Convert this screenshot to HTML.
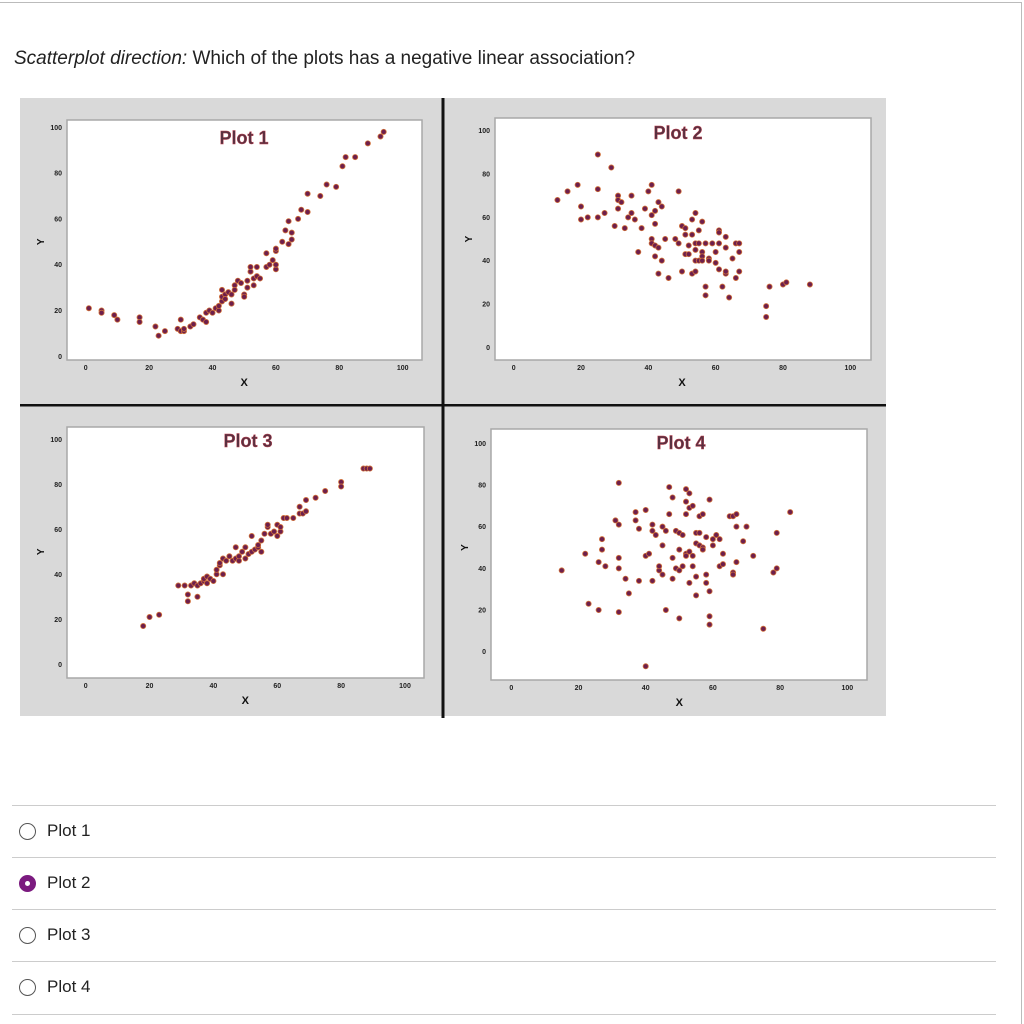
<!DOCTYPE html>
<html><head><meta charset="utf-8"><style>
body{margin:0;width:1024px;height:1024px;background:#fff;font-family:"Liberation Sans",sans-serif;position:relative;overflow:hidden}
.q{position:absolute;left:14px;top:48px;font-size:19px;color:#222}
.opt{position:absolute;left:12px;width:984px;height:52px;border-top:1px solid #ccc}
.opt .r{position:absolute;left:7px;top:17px;width:17px;height:17px;border:1px solid #555;border-radius:50%;box-sizing:border-box}
.opt .r.sel{background:#7b1a7f;border-color:#7b1a7f}
.opt .r.sel:after{content:"";position:absolute;left:5px;top:5px;width:5px;height:5px;border-radius:50%;background:#fff}
.opt span{position:absolute;left:35px;top:15px;font-size:17px;color:#222}
</style></head><body>
<div style="position:absolute;left:0;top:2px;width:1021px;height:1px;background:#bbb"></div>
<div style="position:absolute;left:1021px;top:2px;width:1px;height:1022px;background:#bbb"></div>
<div class="q"><i>Scatterplot direction:</i> Which of the plots has a negative linear association?</div>
<svg id="chart" width="1024" height="1024" style="position:absolute;left:0;top:0" xmlns="http://www.w3.org/2000/svg"></svg>
<div class="opt" style="top:805px"><div class="r"></div><span>Plot 1</span></div>
<div class="opt" style="top:857px"><div class="r sel"></div><span>Plot 2</span></div>
<div class="opt" style="top:909px"><div class="r"></div><span>Plot 3</span></div>
<div class="opt" style="top:961px;border-bottom:1px solid #ccc"><div class="r"></div><span>Plot 4</span></div>
<script>
const xTicks=[0,20,40,60,80,100];
const yTicks=[0,20,40,60,80,100];
const plot1=[[1,21],[5,20],[5,19],[9,18],[10,16],[17,17],[17,15],[22,13],[23,9],[25,11],[29,12],[30,11],[30,16],[31,11],[31,12],[33,13],[34,14],[36,17],[37,16],[38,15],[38,19],[39,20],[40,19],[41,21],[42,20],[42,22],[43,24],[43,26],[43,29],[44,27],[44,25],[45,28],[46,27],[46,23],[47,31],[47,29],[48,33],[49,32],[50,27],[50,26],[51,30],[51,33],[52,37],[52,39],[53,34],[53,31],[54,39],[54,35],[55,34],[57,39],[57,45],[58,40],[59,42],[60,38],[60,40],[60,46],[60,47],[62,50],[63,55],[64,49],[64,59],[65,54],[65,51],[67,60],[68,64],[70,63],[70,71],[74,70],[76,75],[79,74],[81,83],[82,87],[85,87],[89,93],[93,96],[94,98]];
const plot2=[[13,68],[16,72],[19,75],[20,59],[20,65],[22,60],[25,89],[25,73],[25,60],[27,62],[29,83],[30,56],[31,70],[31,68],[31,64],[32,67],[33,55],[34,60],[35,70],[35,62],[36,59],[37,44],[38,55],[39,64],[40,72],[41,61],[41,75],[41,50],[41,48],[42,47],[42,63],[42,57],[42,42],[43,67],[43,46],[43,34],[44,65],[44,40],[45,50],[46,32],[48,50],[49,72],[49,48],[50,56],[50,35],[51,55],[51,52],[51,43],[52,47],[52,43],[53,59],[53,52],[53,34],[54,62],[54,48],[54,45],[54,40],[54,35],[55,48],[55,40],[55,54],[56,58],[56,44],[56,42],[56,40],[57,48],[57,28],[57,24],[58,41],[58,40],[59,48],[60,44],[60,39],[61,54],[61,53],[61,36],[61,48],[62,28],[63,51],[63,46],[63,34],[63,35],[64,23],[65,41],[66,48],[66,32],[67,48],[67,44],[67,35],[75,19],[75,14],[76,28],[80,29],[81,30],[88,29]];
const plot3=[[18,17],[20,21],[23,22],[29,35],[31,35],[32,28],[32,31],[33,35],[34,36],[35,30],[35,35],[36,36],[37,37],[37,38],[38,39],[38,36],[39,38],[40,37],[41,40],[41,42],[42,44],[42,45],[43,40],[43,47],[44,46],[45,48],[46,46],[47,47],[47,52],[48,46],[48,48],[49,50],[50,47],[50,52],[51,49],[52,50],[52,57],[53,51],[54,52],[54,53],[55,50],[55,55],[56,58],[57,61],[57,62],[58,58],[59,59],[60,57],[60,62],[61,59],[61,61],[62,65],[63,65],[65,65],[67,67],[67,70],[68,67],[69,68],[69,73],[72,74],[75,77],[80,81],[80,79],[87,87],[88,87],[89,87]];
const plot4=[[15,39],[22,47],[23,23],[26,43],[26,20],[27,54],[27,49],[28,41],[31,63],[32,61],[32,81],[32,19],[32,45],[32,40],[34,35],[35,28],[37,63],[37,67],[38,59],[38,34],[40,68],[40,46],[40,-7],[41,47],[42,61],[42,58],[42,34],[43,56],[44,39],[44,41],[45,37],[45,51],[45,60],[46,20],[46,58],[47,66],[47,79],[48,35],[48,45],[48,74],[49,58],[49,40],[50,57],[50,16],[50,49],[50,39],[51,41],[51,56],[52,78],[52,72],[52,47],[52,46],[52,66],[53,76],[53,69],[53,48],[53,33],[54,41],[54,46],[54,70],[55,57],[55,36],[55,52],[55,27],[56,57],[56,51],[56,65],[57,66],[57,50],[57,49],[58,55],[58,37],[58,33],[59,73],[59,17],[59,13],[59,29],[60,51],[60,54],[61,56],[62,54],[62,41],[63,47],[63,42],[65,65],[66,65],[66,38],[66,37],[67,66],[67,60],[67,43],[69,53],[70,60],[72,46],[75,11],[78,38],[79,57],[79,40],[83,67]];
const NS="http://www.w3.org/2000/svg";
const svg=document.getElementById('chart');
function mk(tag,attrs,parent){const e=document.createElementNS(NS,tag);for(const k in attrs)e.setAttribute(k,attrs[k]);(parent||svg).appendChild(e);return e;}
let bg=mk('rect',{x:20,y:98,width:866,height:618,fill:'#d9d9d9'});


const panels=[
 {name:'plot-1',title:'Plot 1',data:plot1,box:[67,120,355,240],x0:85.7,x1:402.7,y0:356.3,y1:127.3,tx:244,ty:144},
 {name:'plot-2',title:'Plot 2',data:plot2,box:[495,118,376,242],x0:513.7,x1:850.3,y0:347.3,y1:130.7,tx:678,ty:139},
 {name:'plot-3',title:'Plot 3',data:plot3,box:[67,427,357,251],x0:85.7,x1:405,y0:664.3,y1:439.3,tx:248,ty:447},
 {name:'plot-4',title:'Plot 4',data:plot4,box:[491,429,376,251],x0:511.3,x1:847.3,y0:651.7,y1:443.3,tx:681,ty:449}
];
panels.forEach(p=>{
 const g=mk('g',{});
 
 
 const sx=v=>p.x0+(p.x1-p.x0)*v/100, sy=v=>p.y0+(p.y1-p.y0)*v/100;
 const [bx,by,bw,bh]=p.box;
 const r=mk('rect',{x:bx,y:by,width:bw,height:bh,fill:'#fff',stroke:'#a8a8a8','stroke-width':1.5},g);
 
 
 xTicks.forEach(t=>{
  const tl=mk('text',{x:sx(t),y:by+bh+10,'font-size':7,'font-weight':'bold','text-anchor':'middle',fill:'#222'},g);
  tl.textContent=t;
  
  
 });
 yTicks.forEach(t=>{
  const tl=mk('text',{x:bx-5,y:sy(t)+2.5,'font-size':7,'font-weight':'bold','text-anchor':'end',fill:'#222'},g);
  tl.textContent=t;
  
  
 });
 const xl=mk('text',{x:(p.x0+p.x1)/2,y:by+bh+26,'font-size':11,'font-weight':'bold','text-anchor':'middle',fill:'#111'},g);
 xl.textContent='X';
 
 
 const yc=(p.y0+p.y1)/2;
 const yl=mk('text',{x:bx-26,y:yc,'font-size':10,'font-weight':'bold','text-anchor':'middle',fill:'#111',transform:`rotate(-90 ${bx-26} ${yc})`,dy:3},g);
 yl.textContent='Y';
 
 
 const tt=mk('text',{x:p.tx,y:p.ty,'font-size':18,'font-weight':'bold','text-anchor':'middle',fill:'#5a3040',stroke:'#c04050','stroke-width':0.4},g);
 tt.textContent=p.title;
 
 
 p.data.forEach(d=>{
  const c=mk('circle',{cx:sx(d[0]),cy:sy(d[1]),r:2.6,fill:'#6e1f4c',stroke:'#d0703a','stroke-width':0.8},g);
  
  
 });
});
let vl=mk('rect',{x:441.5,y:98,width:3,height:620,fill:'#111'});


let hl=mk('rect',{x:20,y:404,width:866,height:2.5,fill:'#111'});


</script>
</body></html>
